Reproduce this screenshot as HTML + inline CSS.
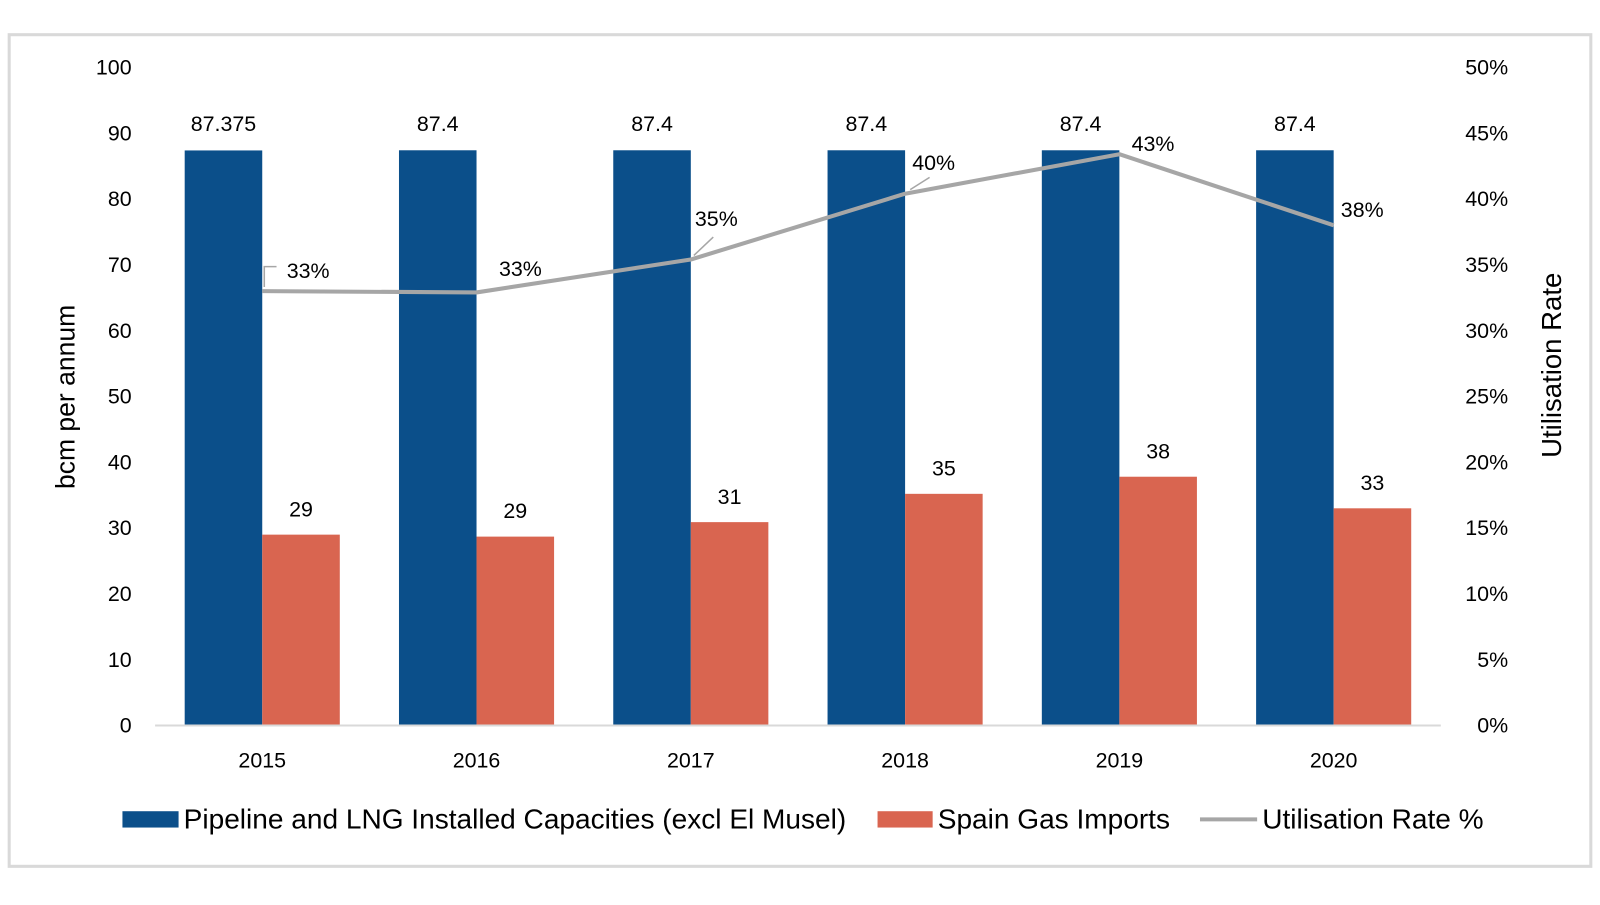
<!DOCTYPE html>
<html><head><meta charset="utf-8"><style>
body{margin:0;background:#fff;font-family:"Liberation Sans",sans-serif;}
svg text{font-family:"Liberation Sans",sans-serif;fill:#000;}
</style></head><body>
<svg id="chart" width="1600" height="900" viewBox="0 0 1600 900" xmlns="http://www.w3.org/2000/svg">
<g transform="scale(1.0204)">
<rect x="9" y="34" width="1550" height="815" fill="#fff" stroke="#d9d9d9" stroke-width="3"/>
<g id="plot"></g>
<text transform="translate(73,389) rotate(-90)" text-anchor="middle" font-size="26">bcm per annum</text>
<text transform="translate(1530,358) rotate(-90)" text-anchor="middle" font-size="27">Utilisation Rate</text>
<g font-size="27.5">
<rect x="120" y="795" width="55" height="16" fill="#0b4f8a"/>
<text x="180" y="812">Pipeline and LNG Installed Capacities (excl El Musel)</text>
<rect x="860" y="795" width="54" height="16" fill="#d96550"/>
<text x="919" y="812">Spain Gas Imports</text>
<line x1="1176" y1="803" x2="1232" y2="803" stroke="#a6a6a6" stroke-width="4"/>
<text x="1237" y="812">Utilisation Rate %</text>
</g>
</g>
</svg>
<script>
const categories=["2015","2016","2017","2018","2019","2020"];
const capacity=[87.375,87.4,87.4,87.4,87.4,87.4];
const capacityLabels=["87.375","87.4","87.4","87.4","87.4","87.4"];
const imports=[29,28.7,30.9,35.2,37.8,33];
const importLabels=["29","29","31","35","38","33"];
const utilisation=[33,32.9,35.4,40.4,43.4,38];
const utilLabels=["33%","33%","35%","40%","43%","38%"];
const leftTicks=[0,10,20,30,40,50,60,70,80,90,100];
const rightTicks=[0,5,10,15,20,25,30,35,40,45,50];
const labelOffsets=[[45,-20],[43,-23],[25,-40],[28,-30],[33,-10],[28,-15]];

const NS="http://www.w3.org/2000/svg";
const g=document.getElementById("plot");
const x0=152,band=210,yBase=711,yTop=66;
const yL=v=>yBase-(v/100)*(yBase-yTop);
const yR=v=>yBase-(v/50)*(yBase-yTop);
const xC=i=>x0+band*(i+0.5);
function mk(tag,attrs,text){const e=document.createElementNS(NS,tag);for(const k in attrs)e.setAttribute(k,attrs[k]);if(text!==undefined)e.textContent=text;g.appendChild(e);return e;}

leftTicks.forEach(t=>{const e=mk("text",{x:129,y:yL(t)+7,"text-anchor":"end","font-size":21},String(t));

});
rightTicks.forEach(t=>{const e=mk("text",{x:1478,y:yR(t)+7,"text-anchor":"end","font-size":21},t+"%");

});

categories.forEach((c,i)=>{
 const cx=xC(i);
 const b=mk("rect",{x:cx-76,y:yL(capacity[i]),width:76,height:yBase-yL(capacity[i]),fill:"#0b4f8a"});
 
 
 const o=mk("rect",{x:cx,y:yL(imports[i]),width:76,height:yBase-yL(imports[i]),fill:"#d96550"});
 
 
 const l1=mk("text",{x:cx-38,y:yL(capacity[i])-19,"text-anchor":"middle","font-size":21},capacityLabels[i]);
 
 
 const l2=mk("text",{x:cx+38,y:yL(imports[i])-18,"text-anchor":"middle","font-size":21},importLabels[i]);
 
 
 const xl=mk("text",{x:cx,y:752,"text-anchor":"middle","font-size":21},c);
 
 
});
const ax=mk("line",{x1:x0,y1:yBase,x2:x0+band*6,y2:yBase,stroke:"#d9d9d9","stroke-width":2});



const pts=utilisation.map((v,i)=>xC(i)+","+yR(v)).join(" ");
const line=mk("polyline",{points:pts,fill:"none",stroke:"#a6a6a6","stroke-width":4,"stroke-linejoin":"round"});


// leader lines for 2015, 2017, 2018 labels
const l15=mk("polyline",{points:(xC(0)+2)+","+(yR(utilisation[0])-4)+" "+(xC(0)+2)+","+(yR(utilisation[0])-24)+" "+(xC(0)+14)+","+(yR(utilisation[0])-24),fill:"none",stroke:"#a6a6a6","stroke-width":1.5});


const l17=mk("line",{x1:xC(2)+3,y1:yR(utilisation[2])-4,x2:xC(2)+22,y2:yR(utilisation[2])-22,stroke:"#a6a6a6","stroke-width":1.5});


const l18=mk("line",{x1:xC(3)+5,y1:yR(utilisation[3])-4,x2:xC(3)+24,y2:yR(utilisation[3])-16,stroke:"#a6a6a6","stroke-width":1.5});


utilisation.forEach((v,i)=>{
 const [dx,dy]=labelOffsets[i];
 const t=mk("text",{x:xC(i)+dx,y:yR(v)+dy+7,"text-anchor":"middle","font-size":21},utilLabels[i]);
 
 
});
</script>
</body></html>
